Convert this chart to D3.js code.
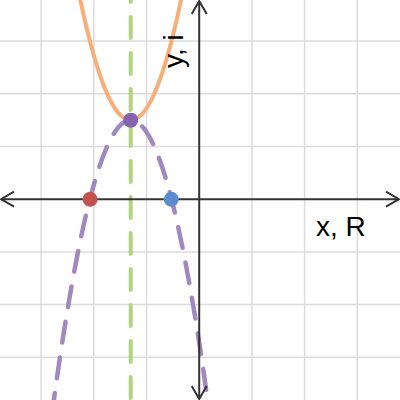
<!DOCTYPE html>
<html>
<head>
<meta charset="utf-8">
<script src="https://cdn.jsdelivr.net/npm/d3@7"></script>
<style>
  html, body { margin: 0; padding: 0; background: #fff; }
  svg { display: block; }
</style>
</head>
<body>
<script>
// data
const gridTicks = [-3, -2, -1, 1, 2, 3]
const upX = [-2.5, -2.3, -2.1, -1.9, -1.7, -1.5, -1.3, -1.1, -0.9, -0.7, -0.5, -0.3, -0.1]
const upY = [5.1, 4.0, 3.1, 2.4, 1.9, 1.6, 1.5, 1.6, 1.9, 2.4, 3.1, 4.0, 5.1]
const downX = [-3.1, -2.8, -2.5, -2.2, -1.9, -1.6, -1.3, -1.0, -0.7, -0.4, -0.1, 0.2, 0.5]
const downY = [-6.6, -4.125, -2.1, -0.525, 0.6, 1.275, 1.5, 1.275, 0.6, -0.525, -2.1, -4.125, -6.6]
const symmetryX = -1.3
const dotX = [-2.07, -0.53, -1.3]
const dotY = [0, 0, 1.5]
const xLabel = 'x, R'
const yLabel = 'y, i'

const dotColors = ['#c4534f', '#5b8ccf', '#8464ad']

let width = 400
let height = 400

let svg = d3.select('body').append('svg')
  .attr('width', width)
  .attr('height', height)

// scales
let x = d3.scaleLinear().domain([-3.78, 3.81]).range([0, width])
let y = d3.scaleLinear().domain([-3.81, 3.78]).range([height, 0])

// grid
svg.append('g')
  .selectAll('line')
  .data(gridTicks)
  .enter()
  .append('line')
  .attr('x1', d => x(d)).attr('x2', d => x(d))
  .attr('y1', 0).attr('y2', height)
  .attr('stroke', '#dcdcdc').attr('stroke-width', 1.5)

svg.append('g')
  .selectAll('line')
  .data(gridTicks)
  .enter()
  .append('line')
  .attr('y1', d => y(d)).attr('y2', d => y(d))
  .attr('x1', 0).attr('x2', width)
  .attr('stroke', '#dcdcdc').attr('stroke-width', 1.5)

let line = d3.line()
  .x(d => x(d[0]))
  .y(d => y(d[1]))
  .curve(d3.curveNatural)

// orange parabola
svg.append('path')
  .attr('d', line(upX.map((d, i) => [d, upY[i]])))
  .attr('fill', 'none')
  .attr('stroke', '#f8ae76')
  .attr('stroke-width', 4)

// purple dashed parabola
svg.append('path')
  .attr('d', line(downX.map((d, i) => [d, downY[i]])))
  .attr('fill', 'none')
  .attr('stroke', '#9f89c0')
  .attr('stroke-width', 4.5)
  .attr('stroke-linecap', 'round')
  .attr('stroke-dasharray', '21 15')
  .attr('stroke-dashoffset', 10)

// green dashed symmetry line
svg.append('line')
  .attr('x1', x(symmetryX)).attr('x2', x(symmetryX))
  .attr('y1', y(3.78)).attr('y2', y(-3.81))
  .attr('stroke', '#b3d47f')
  .attr('stroke-width', 4)
  .attr('stroke-linecap', 'round')
  .attr('stroke-dasharray', '21 15')
  .attr('stroke-dashoffset', 19)

// axes with open arrows
let axisColor = '#333'
let axes = svg.append('g')
  .attr('stroke', axisColor)
  .attr('stroke-width', 2)
  .attr('fill', 'none')

axes.append('line')
  .attr('x1', 1).attr('x2', width - 1)
  .attr('y1', y(0)).attr('y2', y(0))
axes.append('line')
  .attr('x1', x(0)).attr('x2', x(0))
  .attr('y1', 1).attr('y2', height - 1)

let a = 13, b = 7.5
axes.append('path')
  .attr('d', `M${a + 1},${y(0) - b}L1,${y(0)}L${a + 1},${y(0) + b}`)
axes.append('path')
  .attr('d', `M${width - a - 1},${y(0) - b}L${width - 1},${y(0)}L${width - a - 1},${y(0) + b}`)
axes.append('path')
  .attr('d', `M${x(0) - b},${a + 1}L${x(0)},1L${x(0) + b},${a + 1}`)
axes.append('path')
  .attr('d', `M${x(0) - b},${height - a - 1}L${x(0)},${height - 1}L${x(0) + b},${height - a - 1}`)

// points
svg.append('g')
  .selectAll('circle')
  .data(dotX)
  .enter()
  .append('circle')
  .attr('cx', d => x(d))
  .attr('cy', (d, i) => y(dotY[i]))
  .attr('r', 7.5)
  .attr('fill', (d, i) => dotColors[i])

// axis labels
svg.append('text')
  .attr('x', 316)
  .attr('y', 236)
  .attr('font-family', 'Liberation Sans, Arial, sans-serif')
  .attr('font-size', 28)
  .attr('fill', '#000')
  .text(xLabel)

svg.append('text')
  .attr('transform', 'translate(183,68) rotate(-90)')
  .attr('font-family', 'Liberation Sans, Arial, sans-serif')
  .attr('font-size', 28)
  .attr('fill', '#000')
  .text(yLabel)
</script>
</body>
</html>
